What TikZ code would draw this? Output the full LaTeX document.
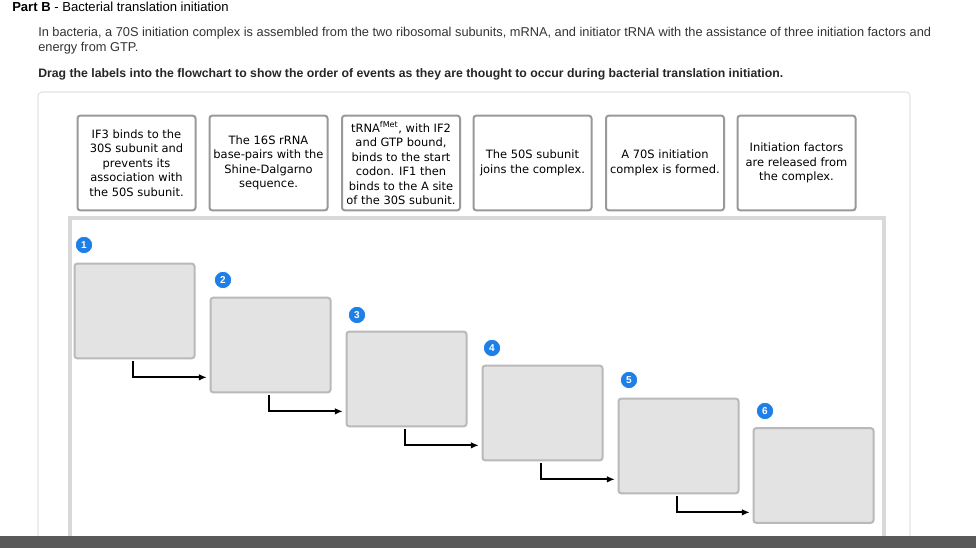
\documentclass[tikz,border=0pt]{standalone}
\usepackage{fontspec}
\usetikzlibrary{arrows.meta}
\setmainfont{Liberation Sans}
\newfontfamily\verd{DejaVu Sans}
\definecolor{numblue}{HTML}{1E7FE6}
\begin{document}
\begin{tikzpicture}[x=0.75pt,y=-0.75pt,
  lbl/.style={draw=gray!80,line width=1.5pt,rounded corners=2pt,fill=white,minimum width=88.5pt,minimum height=71pt,align=center,inner sep=1pt,font=\verd\fontsize{8.6pt}{10.8pt}\selectfont},
  drop/.style={draw=gray!55,line width=1.5pt,rounded corners=2pt,fill=gray!22,minimum width=90pt,minimum height=71pt},
  num/.style={circle,fill=numblue,draw=white,line width=0.6pt,text=white,inner sep=0pt,minimum size=13pt,font=\bfseries\fontsize{7.5pt}{8pt}\selectfont},
  arr/.style={-{Latex[length=6pt,width=5pt]},line width=1.5pt}]
\useasboundingbox (0,0) rectangle (976,548);
\fill[white] (0,0) rectangle (976,548);
\node[anchor=west,inner sep=0,font=\fontsize{9.8pt}{12pt}\selectfont] (title) at (12,7) {\textbf{Part B} - Bacterial translation initiation};
\node[anchor=north west,inner sep=0,align=left,font=\fontsize{9.6pt}{11.4pt}\selectfont,text=black!80] (para) at (38,27) {In bacteria, a 70S initiation complex is assembled from the two ribosomal subunits, mRNA, and initiator tRNA with the assistance of three initiation factors and\\energy from GTP.};
\node[anchor=west,inner sep=0,font=\bfseries\fontsize{9.2pt}{11pt}\selectfont,text=black!85] (instr) at (38,74) {Drag the labels into the flowchart to show the order of events as they are thought to occur during bacterial translation initiation.};
\draw[gray!40,rounded corners=3pt,fill=white] (38,560) -- (38,92) -- (910,92) -- (910,560);
\node[lbl] (l1) at (136.5,163) {IF3 binds to the\\30S subunit and\\prevents its\\association with\\the 50S subunit.};
\node[lbl] (l2) at (268.5,163) {The 16S rRNA\\base-pairs with the\\Shine-Dalgarno\\sequence.};
\node[lbl] (l3) at (401,163) {tRNA\textsuperscript{fMet}, with IF2\\and GTP bound,\\binds to the start\\codon. IF1 then\\binds to the A site\\of the 30S subunit.};
\node[lbl] (l4) at (532.5,163) {The 50S subunit\\joins the complex.};
\node[lbl] (l5) at (665,163) {A 70S initiation\\complex is formed.};
\node[lbl] (l6) at (796.5,163) {Initiation factors\\are released from\\the complex.};
\fill[gray!30] (68,216) rectangle (886,548);
\fill[white] (72,220) rectangle (882,548);
\foreach \i/\x/\y/\nx/\ny in {1/134.5/311/84/245, 2/270.5/345/223/280, 3/406.5/379/357/315, 4/542.5/413/492/348, 5/678.5/446/629/380, 6/813.5/475.5/765/411}{
  \node[drop] (d\i) at (\x,\y) {};
  \node[num] (n\i) at (\nx,\ny) {\i};
}
\foreach \a/\b in {1/2,2/3,3/4,4/5,5/6}{
  \coordinate (s\a) at ([xshift=-1.5pt,yshift=-1.5pt]d\a.south);
  \path (s\a) -- ++(0,16) coordinate (t\a);
  \draw[arr] (s\a) -- (t\a) -- ([xshift=-2pt]t\a -| d\b.west);
}
\fill[gray!70!black] (0,536) rectangle (976,548);
\end{tikzpicture}
\end{document}
